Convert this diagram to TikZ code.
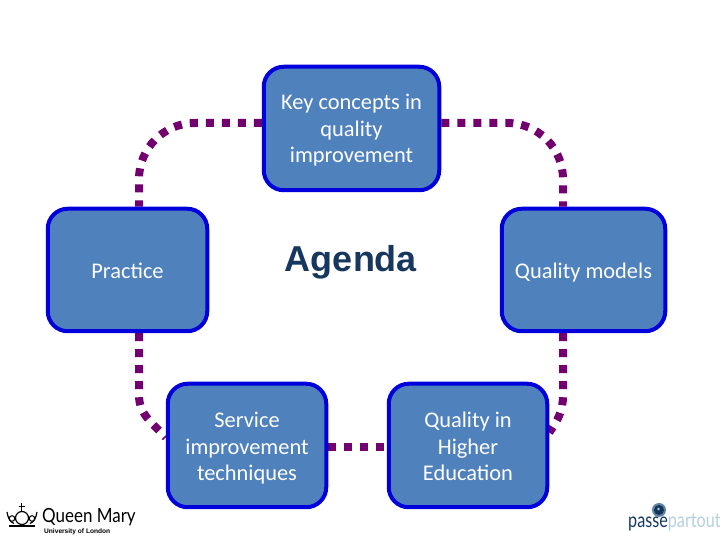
\documentclass[tikz,border=0pt]{standalone}
\usepackage{fontspec}
\setmainfont{Carlito}
\newfontfamily\arialfont{Liberation Sans}
\newfontfamily\logofont{Lato}
\usetikzlibrary{backgrounds}
\definecolor{boxblue}{HTML}{4F81BD}
\definecolor{boxline}{HTML}{0000DC}
\definecolor{dotpurple}{HTML}{72006E}
\definecolor{titlenavy}{HTML}{17375E}
\definecolor{eyeblue}{HTML}{1B4F7F}
\definecolor{partoutblue}{HTML}{B5CFE0}
\tikzstyle{tema} = [draw=boxline, fill=boxblue, line width=4pt, rectangle, rounded corners=20pt, text=white, align=center, inner sep=0pt, text depth=0pt, font=\fontsize{22.4}{26.3}\selectfont]
\tikzstyle{puntos} = [draw=dotpurple, line width=8pt, dash pattern=on 8pt off 8pt, rounded corners=56pt]
\tikzstyle{curva} = [draw=dotpurple, line width=8pt, dash pattern=on 8pt off 8pt]

\begin{document}
\begin{tikzpicture}[x=1pt,y=1pt]
	\useasboundingbox (0,0) rectangle (720,540);
	\node [tema, minimum width=175.5pt, minimum height=123.5pt, text height=68pt] (concepts) at (351.5,411.5) {Key concepts in\\quality\\improvement};
	\node [tema, minimum width=159.5pt, minimum height=122.5pt, text height=17pt] (practice) at (127.5,270) {Practice};
	\node [tema, minimum width=163.5pt, minimum height=122.5pt, text height=17pt] (models) at (583.5,270) {Quality models};
	\node [tema, minimum width=158.5pt, minimum height=123.5pt, text height=70pt] (service) at (247,94.5) {Service\\improvement\\techniques};
	\node [tema, minimum width=158.5pt, minimum height=123.5pt, text height=70pt] (higher) at (468,94.5) {Quality in\\Higher\\Education};
	\node [text=titlenavy, font=\arialfont\bfseries\fontsize{36}{40}\selectfont] (agenda) at (351,278) {Agenda};
	\begin{scope}[on background layer]
		\draw [puntos] ([yshift=5.5pt]concepts.west) -| ([xshift=11.5pt]practice.north);
		\draw [puntos] ([yshift=5.5pt]concepts.east) -| ([xshift=-20.5pt]models.north);
		\draw [curva] ([xshift=11.5pt]practice.south) -- ++(0,-62) to[out=-90,in=132] ([yshift=8pt]service.west);
		\draw [curva] ([xshift=-20.5pt]models.south) -- ++(0,-62) to[out=-90,in=55] ([yshift=13pt]higher.east);
		\draw [curva] ([yshift=-1.2pt]service.east) -- ([yshift=-1.2pt]higher.west);
	\end{scope}
	% logo izquierdo
	\node [anchor=west, inner sep=0pt, xscale=.87, font=\logofont\fontsize{19.5}{20}\selectfont] (queen) at (42,23) {Queen Mary};
	\node [anchor=west, inner sep=0pt, font=\arialfont\bfseries\fontsize{6.6}{7}\selectfont] (london) at (44,8) {University of London};
	\draw [line width=1.2pt] (22,22) circle (6.5);
	\fill (9,12.5) rectangle (35,15);
	\draw [line width=1.2pt] (7,28) .. controls (8,22) and (10,18) .. (14,16.5) (37,28) .. controls (36,22) and (34,18) .. (30,16.5);
	\draw [line width=1pt] (12,21.5) circle (2.8) (32,21.5) circle (2.8);
	\draw [line width=1.6pt] (21.5,29) -- (21.5,37) (18.5,33.5) -- (24.5,33.5);
	% logo derecho
	\node [anchor=base west, inner sep=0pt, xscale=.79, font=\logofont\fontsize{20.5}{21}\selectfont] (passe) at (628,12) {\textcolor{titlenavy}{passe}\textcolor{partoutblue}{partout}};
	\fill [eyeblue!70] (659,30) circle (7);
	\fill [eyeblue!70!black] (659,30) circle (5);
	\fill [white!70!eyeblue] (658.5,31) circle (1.4);
\end{tikzpicture}
\end{document}
